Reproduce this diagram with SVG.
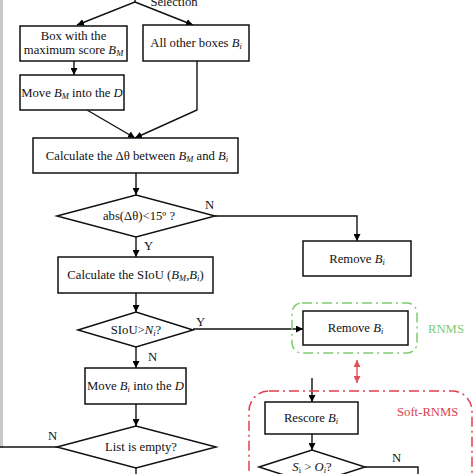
<svg xmlns="http://www.w3.org/2000/svg" width="474" height="474" viewBox="0 0 474 474">
<defs>
<marker id="ah" viewBox="0 0 10 10" refX="10" refY="5" markerWidth="7" markerHeight="7" markerUnits="userSpaceOnUse" orient="auto"><path d="M0,0 L10,5 L0,10 z" fill="#000"/></marker>
<marker id="rh" viewBox="0 0 10 10" refX="10" refY="5" markerWidth="7" markerHeight="7" markerUnits="userSpaceOnUse" orient="auto-start-reverse"><path d="M0,0 L10,5 L0,10 z" fill="#e0505a"/></marker>
<style>
text{font-family:"Liberation Serif","Times New Roman",serif;font-size:12.7px;fill:#111;}
.c{text-anchor:middle;}
.box{fill:#fff;stroke:#111;stroke-width:1.5;}
.ln{fill:none;stroke:#111;stroke-width:1.4;}
.i{font-style:italic;}
.s{font-size:8.5px;}
</style>
</defs>
<rect width="474" height="474" fill="#fff"/>
<rect x="0" y="0" width="3" height="448" fill="#c8c8c8"/>
<text class="c" x="174" y="6">Selection</text>

<g id="connectors">
<path class="ln" d="M135,0 L135,2 L77,25" marker-end="url(#ah)"/>
<path class="ln" d="M135,2 L193,25" marker-end="url(#ah)"/>
<path class="ln" d="M74,61 L74,75" marker-end="url(#ah)"/>
<path class="ln" d="M87,110 L135,138" marker-end="url(#ah)"/>
<path class="ln" d="M197,61 L197,110 L135,138" marker-end="url(#ah)"/>
<path class="ln" d="M136,173 L136,195" marker-end="url(#ah)"/>
<path class="ln" d="M215,216 L357,216 L357,241" marker-end="url(#ah)"/>
<path class="ln" d="M136,237 L136,257" marker-end="url(#ah)"/>
<path class="ln" d="M136,293 L136,312" marker-end="url(#ah)"/>
<path class="ln" d="M193,329 L303,329" marker-end="url(#ah)"/>
<path class="ln" d="M136,347 L136,368" marker-end="url(#ah)"/>
<path class="ln" d="M136,404 L136,426" marker-end="url(#ah)"/>
<path class="ln" d="M57,447 L0,447"/>
<path class="ln" d="M136,468 L136,474"/>
<path class="ln" d="M312,378 L312,402" marker-end="url(#ah)"/>
<path class="ln" d="M312,434 L312,450" marker-end="url(#ah)"/>
<path class="ln" d="M365,467 L418,467 L418,474"/>
<path d="M357,360 L357,383" fill="none" stroke="#e0505a" stroke-width="1.4" marker-start="url(#rh)" marker-end="url(#rh)"/>
<text x="205" y="209">N</text>
<text x="144" y="250">Y</text>
<text x="196" y="326">Y</text>
<text x="148" y="361">N</text>
<text x="48" y="440">N</text>
<text x="392" y="462">N</text>
</g>

<g id="group-rnms">
<rect x="292" y="303" width="125" height="50" rx="10" fill="none" stroke="#7fcc6f" stroke-width="1.5" stroke-dasharray="10 4 2 4"/>
<text x="428" y="333" style="fill:#7fcc6f">RNMS</text>
</g>
<g id="group-soft-rnms">
<rect x="249" y="391" width="223" height="130" rx="20" fill="none" stroke="#e0404e" stroke-width="1.5" stroke-dasharray="10 4 2 4"/>
<text x="397" y="416" style="fill:#d9424f">Soft-RNMS</text>
</g>

<g id="n-boxmax"><rect class="box" x="20" y="26" width="107" height="35"/>
<text class="c" x="73.5" y="40">Box with the</text>
<text class="c" x="73.5" y="54">maximum score <tspan class="i">B</tspan><tspan class="i s" dy="2">M</tspan></text></g>

<g id="n-others"><rect class="box" x="143" y="25" width="106" height="36"/>
<text class="c" x="196" y="47">All other boxes <tspan class="i">B</tspan><tspan class="i s" dy="2">i</tspan></text></g>

<g id="n-moveBM"><rect class="box" x="20" y="75" width="104" height="35"/>
<text class="c" x="72" y="97">Move <tspan class="i">B</tspan><tspan class="i s" dy="2">M</tspan><tspan dy="-2"> into the </tspan><tspan class="i">D</tspan></text></g>

<g id="n-calc"><rect class="box" x="33" y="138" width="205" height="35"/>
<text class="c" x="137" y="160">Calculate the Δθ between  <tspan class="i">B</tspan><tspan class="i s" dy="2">M</tspan><tspan dy="-2"> and  </tspan><tspan class="i">B</tspan><tspan class="i s" dy="2">i</tspan></text></g>

<g id="n-abs"><polygon class="box" points="57,216 136,195 215,216 136,237"/>
<text class="c" x="139" y="220">abs(Δθ)&lt;15º  ?</text></g>

<g id="n-remove1"><rect class="box" x="303" y="241" width="108" height="35"/>
<text class="c" x="357" y="263">Remove <tspan class="i">B</tspan><tspan class="i s" dy="2">i</tspan></text></g>

<g id="n-siou"><rect class="box" x="58" y="257" width="155" height="36"/>
<text class="c" x="135.5" y="279">Calculate the SIoU (<tspan class="i">B</tspan><tspan class="i s" dy="2">M</tspan><tspan dy="-2">,</tspan><tspan class="i">B</tspan><tspan class="i s" dy="2">i</tspan><tspan dy="-2">)</tspan></text></g>

<g id="n-siouq"><polygon class="box" points="78,330 136,312 193,330 136,347"/>
<text class="c" x="136" y="334">SIoU&gt;<tspan class="i">N</tspan><tspan class="i s" dy="2">i</tspan><tspan dy="-2">?</tspan></text></g>

<g id="n-remove2"><rect class="box" x="303" y="311" width="105" height="34"/>
<text class="c" x="355.5" y="332">Remove <tspan class="i">B</tspan><tspan class="i s" dy="2">i</tspan></text></g>

<g id="n-moveBi"><rect class="box" x="85" y="368" width="101" height="36"/>
<text class="c" x="135.5" y="390">Move <tspan class="i">B</tspan><tspan class="i s" dy="2">i</tspan><tspan dy="-2"> into the </tspan><tspan class="i">D</tspan></text></g>

<g id="n-empty"><polygon class="box" points="57,447 136,426 216,447 136,468"/>
<text class="c" x="141" y="451">List is empty?</text></g>

<g id="n-rescore"><rect class="box" x="265" y="402" width="93" height="32"/>
<text class="c" x="311" y="422">Rescore  <tspan class="i">B</tspan><tspan class="i s" dy="2">i</tspan></text></g>

<g id="n-si"><polygon class="box" points="259,467 312,450 365,467 312,484"/>
<text class="c" x="312" y="471"><tspan class="i">S</tspan><tspan class="s" dy="2">i</tspan><tspan dy="-2"> &gt; </tspan><tspan class="i">O</tspan><tspan class="i s" dy="2">i</tspan><tspan dy="-2">?</tspan></text></g>
</svg>
